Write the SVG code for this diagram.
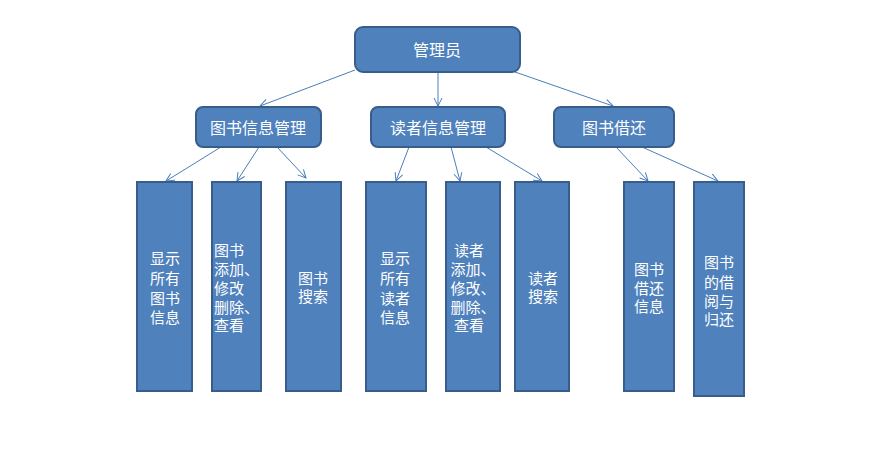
<svg xmlns="http://www.w3.org/2000/svg" width="893" height="455" viewBox="0 0 893 455">
<defs>
<marker id="arr" markerUnits="userSpaceOnUse" markerWidth="12" markerHeight="12" refX="10" refY="6" orient="auto">
<path d="M2,2 L10,6 L2,10" fill="none" stroke="#4a7ebb" stroke-width="1"/>
</marker>
<style>
.box{fill:#4f81bd;stroke:#385d8a;stroke-width:2}
.t{fill:#ffffff;font-family:"Noto Sans CJK SC","Noto Sans CJK JP",sans-serif;font-size:16px;text-anchor:middle;dominant-baseline:central}
.s{font-size:15px}
.ln{fill:none;stroke:#4a7ebb;stroke-width:1;marker-end:url(#arr)}
</style>
</defs>
<rect width="893" height="455" fill="#ffffff"/>
<g id="connectors">
<line class="ln" x1="355" y1="70" x2="260" y2="106"/>
<line class="ln" x1="438" y1="72" x2="438" y2="106"/>
<line class="ln" x1="515" y1="72" x2="613" y2="106"/>
<line class="ln" x1="221" y1="147" x2="166" y2="181"/>
<line class="ln" x1="259" y1="147" x2="237" y2="181"/>
<line class="ln" x1="277" y1="147" x2="306" y2="178"/>
<line class="ln" x1="409" y1="147" x2="396" y2="181"/>
<line class="ln" x1="451" y1="147" x2="460" y2="181"/>
<line class="ln" x1="486" y1="147" x2="542" y2="181"/>
<line class="ln" x1="616" y1="147" x2="648" y2="181"/>
<line class="ln" x1="642" y1="147" x2="718" y2="181"/>
</g>
<g id="root">
<rect class="box" x="355" y="27" width="165" height="45" rx="8"/>
<text class="t" x="437" y="49">管理员</text>
</g>
<g id="book-info">
<rect class="box" x="196" y="107" width="125" height="40" rx="7"/>
<text class="t" x="258" y="127">图书信息管理</text>
</g>
<g id="reader-info">
<rect class="box" x="371" y="107" width="134" height="40" rx="7"/>
<text class="t" x="438" y="127">读者信息管理</text>
</g>
<g id="borrow">
<rect class="box" x="554" y="107" width="120" height="40" rx="7"/>
<text class="t" x="614" y="127">图书借还</text>
</g>
<g id="leaf1">
<rect class="box" x="137" y="182" width="55" height="209"/>
<text class="t s" x="165"><tspan x="165" y="257">显示</tspan><tspan x="165" y="277">所有</tspan><tspan x="165" y="297">图书</tspan><tspan x="165" y="316">信息</tspan></text>
</g>
<g id="leaf2">
<rect class="box" x="212" y="182" width="49" height="209"/>
<text class="t s" style="text-anchor:start"><tspan x="214" y="249">图书</tspan><tspan x="214" y="268">添加、</tspan><tspan x="214" y="287">修改</tspan><tspan x="214" y="306">删除、</tspan><tspan x="214" y="324">查看</tspan></text>
</g>
<g id="leaf3">
<rect class="box" x="286" y="182" width="55" height="209"/>
<text class="t s"><tspan x="313" y="277">图书</tspan><tspan x="313" y="295">搜索</tspan></text>
</g>
<g id="leaf4">
<rect class="box" x="366" y="182" width="60" height="209"/>
<text class="t s"><tspan x="395" y="257">显示</tspan><tspan x="395" y="277">所有</tspan><tspan x="395" y="297">读者</tspan><tspan x="395" y="316">信息</tspan></text>
</g>
<g id="leaf5">
<rect class="box" x="446" y="182" width="54" height="209"/>
<text class="t s"><tspan x="469" y="249">读者</tspan><tspan x="473" y="268">添加、</tspan><tspan x="473" y="287">修改、</tspan><tspan x="473" y="306">删除、</tspan><tspan x="469" y="324">查看</tspan></text>
</g>
<g id="leaf6">
<rect class="box" x="515" y="182" width="54" height="209"/>
<text class="t s"><tspan x="543" y="277">读者</tspan><tspan x="543" y="295">搜索</tspan></text>
</g>
<g id="leaf7">
<rect class="box" x="624" y="182" width="50" height="209"/>
<text class="t s"><tspan x="649" y="268">图书</tspan><tspan x="649" y="287">借还</tspan><tspan x="649" y="305">信息</tspan></text>
</g>
<g id="leaf8">
<rect class="box" x="694" y="182" width="50" height="214"/>
<text class="t s"><tspan x="719" y="261">图书</tspan><tspan x="719" y="281">的借</tspan><tspan x="719" y="300">阅与</tspan><tspan x="719" y="318">归还</tspan></text>
</g>
</svg>
